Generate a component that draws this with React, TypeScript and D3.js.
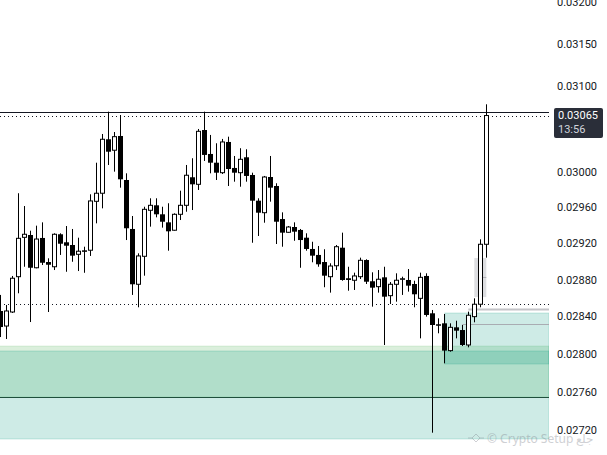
import { useEffect, useRef } from 'react';

import * as d3 from 'd3';

const width = 607;
const height = 455;
const plotRight = 549;

// OHLC, oldest first
const opens = [
    0.028458, 0.028296, 0.028447, 0.028831, 0.029265, 0.029291, 0.028929, 0.029258, 0.028992, 0.02894,
    0.029299, 0.02921, 0.02918, 0.029077, 0.029121, 0.029122, 0.029668, 0.029759, 0.030375, 0.030249,
    0.030413, 0.029909, 0.029358, 0.028748, 0.029055, 0.029567, 0.029623, 0.029522, 0.029432, 0.029344,
    0.029522, 0.029623, 0.02994, 0.02986, 0.030482, 0.030206, 0.030106, 0.029992, 0.030344, 0.030046,
    0.029992, 0.030168, 0.029966, 0.029675, 0.02954, 0.029943, 0.029841, 0.029469, 0.029321, 0.02938,
    0.029347, 0.029261, 0.029136, 0.02907, 0.028992, 0.028831, 0.028951, 0.02915, 0.028814, 0.028792,
    0.028831, 0.029014, 0.028781, 0.028722, 0.028824, 0.028624, 0.028748, 0.028806, 0.028795, 0.028751,
    0.028595, 0.028839, 0.028433, 0.028315, 0.028325, 0.028033, 0.028282, 0.028253, 0.028093, 0.028397,
    0.028531, 0.029188
];
const highs = [
    0.028632, 0.028523, 0.028839, 0.029759, 0.029615, 0.029339, 0.029395, 0.029432, 0.029033, 0.02931,
    0.02931, 0.029391, 0.029358, 0.029261, 0.029161, 0.029747, 0.030106, 0.030436, 0.030695, 0.030459,
    0.030656, 0.029985, 0.029503, 0.029088, 0.029607, 0.029702, 0.029702, 0.029607, 0.029646, 0.029533,
    0.029788, 0.03008, 0.030157, 0.030494, 0.030695, 0.030425, 0.030329, 0.030379, 0.030405, 0.030183,
    0.030272, 0.03026, 0.029992, 0.029702, 0.029955, 0.030183, 0.029872, 0.029544, 0.029391, 0.029432,
    0.029358, 0.02931, 0.029216, 0.029169, 0.029133, 0.028978, 0.02918, 0.029317, 0.02894, 0.028875,
    0.02904, 0.029022, 0.028879, 0.028904, 0.02894, 0.028773, 0.028868, 0.028831, 0.028915, 0.028787,
    0.028875, 0.028868, 0.028469, 0.028379, 0.028426, 0.028325, 0.028353, 0.028307, 0.028451, 0.028595,
    0.029243, 0.030781
];
const lows = [
    0.028178, 0.028157, 0.028437, 0.02865, 0.02894, 0.028339, 0.028923, 0.028959, 0.028447, 0.028904,
    0.02907, 0.028885, 0.028995, 0.028893, 0.028874, 0.029059, 0.029421, 0.029589, 0.03008, 0.030004,
    0.029822, 0.029235, 0.028632, 0.028498, 0.028842, 0.029384, 0.029488, 0.029373, 0.029117, 0.029339,
    0.029458, 0.029551, 0.02957, 0.029796, 0.030126, 0.029985, 0.029909, 0.029977, 0.029841, 0.02989,
    0.029833, 0.02989, 0.029205, 0.02928, 0.029428, 0.029664, 0.029191, 0.029161, 0.029317, 0.029227,
    0.028929, 0.029117, 0.028989, 0.02894, 0.028716, 0.028657, 0.028904, 0.028787, 0.028678, 0.028686,
    0.028806, 0.028751, 0.028505, 0.028657, 0.028093, 0.028534, 0.028559, 0.028632, 0.028668, 0.028498,
    0.028164, 0.028397, 0.027173, 0.028218, 0.027898, 0.028022, 0.028164, 0.028082, 0.028068, 0.028336,
    0.028498, 0.02904
];
const closes = [
    0.028285, 0.028458, 0.028814, 0.029254, 0.029299, 0.028929, 0.029246, 0.028984, 0.028962, 0.029299,
    0.029194, 0.029172, 0.029062, 0.029111, 0.029119, 0.029672, 0.029759, 0.030375, 0.030232, 0.030405,
    0.029917, 0.029366, 0.028748, 0.029059, 0.029578, 0.029623, 0.029522, 0.029439, 0.029332, 0.029522,
    0.029623, 0.029963, 0.02986, 0.030467, 0.030195, 0.030106, 0.029992, 0.030344, 0.030034, 0.029992,
    0.030145, 0.029955, 0.029675, 0.02954, 0.029943, 0.029822, 0.029439, 0.029317, 0.02938, 0.029328,
    0.029235, 0.029136, 0.029062, 0.028967, 0.028842, 0.028948, 0.029161, 0.028795, 0.028795, 0.028839,
    0.029011, 0.028776, 0.028711, 0.028803, 0.028613, 0.028748, 0.028792, 0.028808, 0.028733, 0.028639,
    0.028824, 0.028415, 0.028307, 0.028312, 0.028033, 0.028282, 0.028246, 0.028093, 0.028412, 0.028531,
    0.029188, 0.03065
];

const priceTicks = [0.032, 0.0315, 0.031, 0.03, 0.0296, 0.0292, 0.0288, 0.0284, 0.028, 0.0276, 0.0272];
const lastPrice = 0.03065;
const countdown = '13:56';
const resistanceLevel = 0.030686;
const dottedLevels = [0.03065, 0.02853];

// zones: top, bottom, first candle index
const zoneTops = [0.028082, 0.028029, 0.028436];
const zoneBottoms = [0.027544, 0.027108, 0.027891];
const zoneStarts = [-2, -2, 74.1];
const zoneLine = 0.027544;

// grey drawings near the last candles
const greyLevels = [0.02848, 0.028318];
const greyStarts = [78, 77];
const greyBoxTop = 0.029036;
const greyBoxBottom = 0.028609;
const greyBoxStart = 79;
const greyBoxEnd = 81;

const watermark = '© Crypto Setup جلع';

export default function App() {
    const chart = useRef<SVGSVGElement>(null);

    useEffect(() => {
        const svg = d3.select(chart.current);
        svg.selectAll('*').remove();

        const x = d3.scaleLinear().domain([0, 81]).range([0.3, 486.3]);
        const y = d3
            .scaleLog()
            .domain([0.032, 0.0272])
            .range([2, 2 + 2634 * Math.log(0.032 / 0.0272)]);

        svg.append('rect').attr('width', width).attr('height', height).attr('fill', '#ffffff');

        svg.append('clipPath').attr('id', 'plot-clip').append('rect').attr('width', plotRight).attr('height', height);
        const plot = svg.append('g').attr('clip-path', 'url(#plot-clip)');

        // zones
        const zoneFills = ['rgba(76,175,80,0.2)', 'rgba(8,153,129,0.2)', 'rgba(8,153,129,0.2)'];
        zoneTops.forEach((top, i) => {
            plot.append('rect')
                .attr('x', x(zoneStarts[i]))
                .attr('y', y(top))
                .attr('width', plotRight - x(zoneStarts[i]))
                .attr('height', y(zoneBottoms[i]) - y(top))
                .attr('fill', zoneFills[i])
                .attr('stroke', i === 0 ? 'rgba(76,175,80,0.15)' : 'rgba(8,153,129,0.2)')
                .attr('stroke-width', 1);
        });
        plot.append('line')
            .attr('x1', 0)
            .attr('x2', plotRight)
            .attr('y1', Math.round(y(zoneLine)) + 0.5)
            .attr('y2', Math.round(y(zoneLine)) + 0.5)
            .attr('stroke', '#1f4f3c')
            .attr('stroke-width', 1);

        // grey drawings
        plot.append('rect')
            .attr('x', x(greyBoxStart))
            .attr('y', y(greyBoxTop))
            .attr('width', x(greyBoxEnd) - x(greyBoxStart))
            .attr('height', y(greyBoxBottom) - y(greyBoxTop))
            .attr('fill', 'rgba(120,123,134,0.25)');
        plot.append('line')
            .attr('x1', x(greyBoxEnd - 0.8))
            .attr('x2', x(greyBoxEnd))
            .attr('y1', y((greyBoxTop + greyBoxBottom) / 2))
            .attr('y2', y((greyBoxTop + greyBoxBottom) / 2))
            .attr('stroke', '#b0b0b6');
        greyLevels.forEach((level, i) => {
            plot.append('line')
                .attr('x1', x(greyStarts[i]))
                .attr('x2', plotRight)
                .attr('y1', Math.round(y(level)) + 0.5)
                .attr('y2', Math.round(y(level)) + 0.5)
                .attr('stroke', i === 0 ? '#c4c4c8' : '#a9acb2')
                .attr('stroke-width', i === 0 ? 2 : 1);
        });

        // horizontal lines
        plot.append('line')
            .attr('x1', 0)
            .attr('x2', plotRight)
            .attr('y1', Math.round(y(resistanceLevel)) + 0.5)
            .attr('y2', Math.round(y(resistanceLevel)) + 0.5)
            .attr('stroke', '#131722');
        dottedLevels.forEach((level) => {
            plot.append('line')
                .attr('x1', 0)
                .attr('x2', plotRight)
                .attr('y1', Math.round(y(level)) + 0.5)
                .attr('y2', Math.round(y(level)) + 0.5)
                .attr('stroke', '#131722')
                .attr('stroke-dasharray', '1,3');
        });

        // candles
        const candles = d3.range(opens.length).map((i) => ({
            i,
            o: opens[i],
            h: highs[i],
            l: lows[i],
            c: closes[i]
        }));
        const g = plot.selectAll('g.candle').data(candles).enter().append('g').attr('class', 'candle');
        g.append('rect')
            .attr('x', (d) => Math.round(x(d.i)))
            .attr('y', (d) => y(d.h))
            .attr('width', 1)
            .attr('height', (d) => y(d.l) - y(d.h))
            .attr('fill', '#000000');
        g.filter((d) => d.c < d.o)
            .append('rect')
            .attr('x', (d) => Math.round(x(d.i)) - 2)
            .attr('y', (d) => y(d.o))
            .attr('width', 5)
            .attr('height', (d) => Math.max(1.5, y(d.c) - y(d.o)))
            .attr('fill', '#000000');
        g.filter((d) => d.c >= d.o)
            .append('rect')
            .attr('x', (d) => Math.round(x(d.i)) - 1.5)
            .attr('y', (d) => y(d.c))
            .attr('width', 4)
            .attr('height', (d) => Math.max(0.5, y(d.o) - y(d.c)))
            .attr('fill', '#ffffff')
            .attr('stroke', '#000000')
            .attr('stroke-width', 1);

        // price axis
        const axis = d3
            .axisRight(y)
            .tickValues(priceTicks)
            .tickSize(0)
            .tickPadding(0)
            .tickFormat(d3.format('.5f') as (v: d3.NumberValue) => string);
        svg.append('g')
            .attr('transform', `translate(557, 0)`)
            .call(axis)
            .call((a) => a.select('.domain').remove())
            .call((a) =>
                a
                    .selectAll('text')
                    .attr('font-family', 'Roboto, sans-serif')
                    .attr('font-size', 11)
                    .attr('fill', '#131722')
            );

        // last price label
        const py = y(lastPrice);
        svg.append('rect')
            .attr('x', 554)
            .attr('y', py - 7.5)
            .attr('width', 49)
            .attr('height', 30)
            .attr('rx', 2)
            .attr('fill', '#2a2e39');
        svg.append('text')
            .attr('x', 558)
            .attr('y', py)
            .attr('dy', '0.35em')
            .attr('font-family', 'Roboto, sans-serif')
            .attr('font-size', 11)
            .attr('fill', '#ffffff')
            .text(d3.format('.5f')(lastPrice));
        svg.append('text')
            .attr('x', 558)
            .attr('y', py + 14)
            .attr('dy', '0.35em')
            .attr('font-family', 'Roboto, sans-serif')
            .attr('font-size', 11)
            .attr('fill', '#d1d4dc')
            .text(countdown);

        // watermark
        const wm = svg.append('g').attr('opacity', 0.35);
        wm.append('path')
            .attr('d', 'M476,434 L480,438 L476,442 L472,438 Z M468,438 H472 M480,438 H484')
            .attr('fill', 'none')
            .attr('stroke', '#787b86')
            .attr('stroke-width', 1);
        wm.append('text')
            .attr('x', 487)
            .attr('y', 443)
            .attr('font-family', '"Noto Sans", sans-serif')
            .attr('font-size', 12)
            .attr('fill', '#787b86')
            .text(watermark);
    }, []);

    return (
        <svg
            ref={chart}
            width={width}
            height={height}
            style={{ position: 'absolute', left: 0, top: 0, display: 'block' }}
        />
    );
}
